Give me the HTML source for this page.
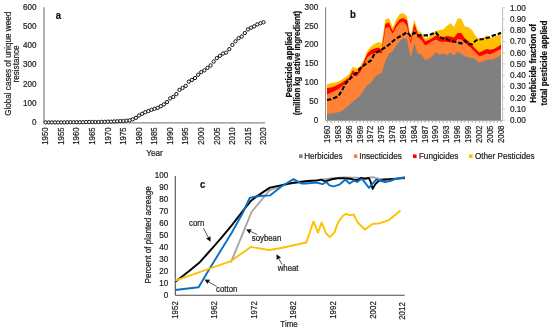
<!DOCTYPE html>
<html><head><meta charset="utf-8"><style>
html,body{margin:0;padding:0;background:#fff;}
svg{display:block;font-family:"Liberation Sans", sans-serif;filter:blur(0.4px);}
</style></head><body>
<svg width="550" height="331" viewBox="0 0 550 331">
<rect width="550" height="331" fill="#fff"/>
<line x1="44" y1="7.3" x2="44" y2="122.7" stroke="#8a8a8a" stroke-width="1.3"/>
<line x1="43.4" y1="122.9" x2="265.2" y2="122.9" stroke="#8a8a8a" stroke-width="1.3"/>
<text x="36.6" y="125" font-size="8.91" text-anchor="end" fill="#222222" stroke="#222222" stroke-width="0.22" textLength="4.5" lengthAdjust="spacingAndGlyphs">0</text>
<text x="36.6" y="105.78" font-size="8.91" text-anchor="end" fill="#222222" stroke="#222222" stroke-width="0.22" textLength="13.51" lengthAdjust="spacingAndGlyphs">100</text>
<text x="36.6" y="86.56" font-size="8.91" text-anchor="end" fill="#222222" stroke="#222222" stroke-width="0.22" textLength="13.51" lengthAdjust="spacingAndGlyphs">200</text>
<text x="36.6" y="67.34" font-size="8.91" text-anchor="end" fill="#222222" stroke="#222222" stroke-width="0.22" textLength="13.51" lengthAdjust="spacingAndGlyphs">300</text>
<text x="36.6" y="48.12" font-size="8.91" text-anchor="end" fill="#222222" stroke="#222222" stroke-width="0.22" textLength="13.51" lengthAdjust="spacingAndGlyphs">400</text>
<text x="36.6" y="28.9" font-size="8.91" text-anchor="end" fill="#222222" stroke="#222222" stroke-width="0.22" textLength="13.51" lengthAdjust="spacingAndGlyphs">500</text>
<text x="36.6" y="9.68" font-size="8.91" text-anchor="end" fill="#222222" stroke="#222222" stroke-width="0.22" textLength="13.51" lengthAdjust="spacingAndGlyphs">600</text>
<text x="48.2" y="127.4" font-size="8.58" text-anchor="end" fill="#222222" stroke="#222222" stroke-width="0.22" transform="rotate(-90 48.2 127.4)" textLength="17.35" lengthAdjust="spacingAndGlyphs">1950</text>
<text x="63.78" y="127.4" font-size="8.58" text-anchor="end" fill="#222222" stroke="#222222" stroke-width="0.22" transform="rotate(-90 63.78 127.4)" textLength="17.35" lengthAdjust="spacingAndGlyphs">1955</text>
<text x="79.37" y="127.4" font-size="8.58" text-anchor="end" fill="#222222" stroke="#222222" stroke-width="0.22" transform="rotate(-90 79.37 127.4)" textLength="17.35" lengthAdjust="spacingAndGlyphs">1960</text>
<text x="94.96" y="127.4" font-size="8.58" text-anchor="end" fill="#222222" stroke="#222222" stroke-width="0.22" transform="rotate(-90 94.96 127.4)" textLength="17.35" lengthAdjust="spacingAndGlyphs">1965</text>
<text x="110.54" y="127.4" font-size="8.58" text-anchor="end" fill="#222222" stroke="#222222" stroke-width="0.22" transform="rotate(-90 110.54 127.4)" textLength="17.35" lengthAdjust="spacingAndGlyphs">1970</text>
<text x="126.12" y="127.4" font-size="8.58" text-anchor="end" fill="#222222" stroke="#222222" stroke-width="0.22" transform="rotate(-90 126.12 127.4)" textLength="17.35" lengthAdjust="spacingAndGlyphs">1975</text>
<text x="141.71" y="127.4" font-size="8.58" text-anchor="end" fill="#222222" stroke="#222222" stroke-width="0.22" transform="rotate(-90 141.71 127.4)" textLength="17.35" lengthAdjust="spacingAndGlyphs">1980</text>
<text x="157.29" y="127.4" font-size="8.58" text-anchor="end" fill="#222222" stroke="#222222" stroke-width="0.22" transform="rotate(-90 157.29 127.4)" textLength="17.35" lengthAdjust="spacingAndGlyphs">1985</text>
<text x="172.88" y="127.4" font-size="8.58" text-anchor="end" fill="#222222" stroke="#222222" stroke-width="0.22" transform="rotate(-90 172.88 127.4)" textLength="17.35" lengthAdjust="spacingAndGlyphs">1990</text>
<text x="188.47" y="127.4" font-size="8.58" text-anchor="end" fill="#222222" stroke="#222222" stroke-width="0.22" transform="rotate(-90 188.47 127.4)" textLength="17.35" lengthAdjust="spacingAndGlyphs">1995</text>
<text x="204.05" y="127.4" font-size="8.58" text-anchor="end" fill="#222222" stroke="#222222" stroke-width="0.22" transform="rotate(-90 204.05 127.4)" textLength="17.35" lengthAdjust="spacingAndGlyphs">2000</text>
<text x="219.64" y="127.4" font-size="8.58" text-anchor="end" fill="#222222" stroke="#222222" stroke-width="0.22" transform="rotate(-90 219.64 127.4)" textLength="17.35" lengthAdjust="spacingAndGlyphs">2005</text>
<text x="235.22" y="127.4" font-size="8.58" text-anchor="end" fill="#222222" stroke="#222222" stroke-width="0.22" transform="rotate(-90 235.22 127.4)" textLength="17.35" lengthAdjust="spacingAndGlyphs">2010</text>
<text x="250.8" y="127.4" font-size="8.58" text-anchor="end" fill="#222222" stroke="#222222" stroke-width="0.22" transform="rotate(-90 250.8 127.4)" textLength="17.35" lengthAdjust="spacingAndGlyphs">2015</text>
<text x="266.39" y="127.4" font-size="8.58" text-anchor="end" fill="#222222" stroke="#222222" stroke-width="0.22" transform="rotate(-90 266.39 127.4)" textLength="17.35" lengthAdjust="spacingAndGlyphs">2020</text>
<text x="154.5" y="156" font-size="9.02" text-anchor="middle" fill="#222222" stroke="#222222" stroke-width="0.22" textLength="16.57" lengthAdjust="spacingAndGlyphs">Year</text>
<text x="10.6" y="63.8" font-size="8.91" text-anchor="middle" fill="#222222" stroke="#222222" stroke-width="0.22" transform="rotate(-90 10.6 63.8)" textLength="104.02" lengthAdjust="spacingAndGlyphs">Global cases of unique weed</text>
<text x="18.7" y="64" font-size="8.91" text-anchor="middle" fill="#222222" stroke="#222222" stroke-width="0.22" transform="rotate(-90 18.7 64)" textLength="36.92" lengthAdjust="spacingAndGlyphs">resistance</text>
<text x="55.8" y="18.9" font-size="10.45" text-anchor="start" fill="#111" stroke="#111" stroke-width="0.22" font-weight="bold" textLength="5.28" lengthAdjust="spacingAndGlyphs">a</text>
<circle cx="45.6" cy="122.4" r="1.65" fill="#fff" stroke="#111" stroke-width="1.0"/>
<circle cx="48.71" cy="122.4" r="1.65" fill="#fff" stroke="#111" stroke-width="1.0"/>
<circle cx="51.83" cy="122.4" r="1.65" fill="#fff" stroke="#111" stroke-width="1.0"/>
<circle cx="54.94" cy="122.4" r="1.65" fill="#fff" stroke="#111" stroke-width="1.0"/>
<circle cx="58.05" cy="122.4" r="1.65" fill="#fff" stroke="#111" stroke-width="1.0"/>
<circle cx="61.16" cy="122.4" r="1.65" fill="#fff" stroke="#111" stroke-width="1.0"/>
<circle cx="64.28" cy="122.4" r="1.65" fill="#fff" stroke="#111" stroke-width="1.0"/>
<circle cx="67.39" cy="122.21" r="1.65" fill="#fff" stroke="#111" stroke-width="1.0"/>
<circle cx="70.5" cy="122.21" r="1.65" fill="#fff" stroke="#111" stroke-width="1.0"/>
<circle cx="73.62" cy="122.21" r="1.65" fill="#fff" stroke="#111" stroke-width="1.0"/>
<circle cx="76.73" cy="122.21" r="1.65" fill="#fff" stroke="#111" stroke-width="1.0"/>
<circle cx="79.84" cy="122.21" r="1.65" fill="#fff" stroke="#111" stroke-width="1.0"/>
<circle cx="82.96" cy="122.21" r="1.65" fill="#fff" stroke="#111" stroke-width="1.0"/>
<circle cx="86.07" cy="122.02" r="1.65" fill="#fff" stroke="#111" stroke-width="1.0"/>
<circle cx="89.18" cy="122.02" r="1.65" fill="#fff" stroke="#111" stroke-width="1.0"/>
<circle cx="92.3" cy="122.02" r="1.65" fill="#fff" stroke="#111" stroke-width="1.0"/>
<circle cx="95.41" cy="122.02" r="1.65" fill="#fff" stroke="#111" stroke-width="1.0"/>
<circle cx="98.52" cy="122.02" r="1.65" fill="#fff" stroke="#111" stroke-width="1.0"/>
<circle cx="101.63" cy="121.83" r="1.65" fill="#fff" stroke="#111" stroke-width="1.0"/>
<circle cx="104.75" cy="121.83" r="1.65" fill="#fff" stroke="#111" stroke-width="1.0"/>
<circle cx="107.86" cy="121.63" r="1.65" fill="#fff" stroke="#111" stroke-width="1.0"/>
<circle cx="110.97" cy="121.63" r="1.65" fill="#fff" stroke="#111" stroke-width="1.0"/>
<circle cx="114.09" cy="121.44" r="1.65" fill="#fff" stroke="#111" stroke-width="1.0"/>
<circle cx="117.2" cy="121.25" r="1.65" fill="#fff" stroke="#111" stroke-width="1.0"/>
<circle cx="120.31" cy="121.06" r="1.65" fill="#fff" stroke="#111" stroke-width="1.0"/>
<circle cx="123.43" cy="121.06" r="1.65" fill="#fff" stroke="#111" stroke-width="1.0"/>
<circle cx="126.54" cy="120.68" r="1.65" fill="#fff" stroke="#111" stroke-width="1.0"/>
<circle cx="129.65" cy="120.3" r="1.65" fill="#fff" stroke="#111" stroke-width="1.0"/>
<circle cx="132.76" cy="119.34" r="1.65" fill="#fff" stroke="#111" stroke-width="1.0"/>
<circle cx="135.88" cy="117.81" r="1.65" fill="#fff" stroke="#111" stroke-width="1.0"/>
<circle cx="138.99" cy="115.51" r="1.65" fill="#fff" stroke="#111" stroke-width="1.0"/>
<circle cx="142.1" cy="113.79" r="1.65" fill="#fff" stroke="#111" stroke-width="1.0"/>
<circle cx="145.22" cy="112.26" r="1.65" fill="#fff" stroke="#111" stroke-width="1.0"/>
<circle cx="148.33" cy="111.11" r="1.65" fill="#fff" stroke="#111" stroke-width="1.0"/>
<circle cx="151.44" cy="109.77" r="1.65" fill="#fff" stroke="#111" stroke-width="1.0"/>
<circle cx="154.56" cy="108.82" r="1.65" fill="#fff" stroke="#111" stroke-width="1.0"/>
<circle cx="157.67" cy="107.86" r="1.65" fill="#fff" stroke="#111" stroke-width="1.0"/>
<circle cx="160.78" cy="106.14" r="1.65" fill="#fff" stroke="#111" stroke-width="1.0"/>
<circle cx="163.89" cy="104.41" r="1.65" fill="#fff" stroke="#111" stroke-width="1.0"/>
<circle cx="167.01" cy="102.12" r="1.65" fill="#fff" stroke="#111" stroke-width="1.0"/>
<circle cx="170.12" cy="98.48" r="1.65" fill="#fff" stroke="#111" stroke-width="1.0"/>
<circle cx="173.23" cy="96.95" r="1.65" fill="#fff" stroke="#111" stroke-width="1.0"/>
<circle cx="176.35" cy="94.08" r="1.65" fill="#fff" stroke="#111" stroke-width="1.0"/>
<circle cx="179.46" cy="89.87" r="1.65" fill="#fff" stroke="#111" stroke-width="1.0"/>
<circle cx="182.57" cy="87.96" r="1.65" fill="#fff" stroke="#111" stroke-width="1.0"/>
<circle cx="185.69" cy="85.86" r="1.65" fill="#fff" stroke="#111" stroke-width="1.0"/>
<circle cx="188.8" cy="81.65" r="1.65" fill="#fff" stroke="#111" stroke-width="1.0"/>
<circle cx="191.91" cy="79.92" r="1.65" fill="#fff" stroke="#111" stroke-width="1.0"/>
<circle cx="195.02" cy="78.01" r="1.65" fill="#fff" stroke="#111" stroke-width="1.0"/>
<circle cx="198.14" cy="74.76" r="1.65" fill="#fff" stroke="#111" stroke-width="1.0"/>
<circle cx="201.25" cy="72.08" r="1.65" fill="#fff" stroke="#111" stroke-width="1.0"/>
<circle cx="204.36" cy="70.36" r="1.65" fill="#fff" stroke="#111" stroke-width="1.0"/>
<circle cx="207.48" cy="67.87" r="1.65" fill="#fff" stroke="#111" stroke-width="1.0"/>
<circle cx="210.59" cy="65.38" r="1.65" fill="#fff" stroke="#111" stroke-width="1.0"/>
<circle cx="213.7" cy="61.56" r="1.65" fill="#fff" stroke="#111" stroke-width="1.0"/>
<circle cx="216.81" cy="58.11" r="1.65" fill="#fff" stroke="#111" stroke-width="1.0"/>
<circle cx="219.93" cy="55.82" r="1.65" fill="#fff" stroke="#111" stroke-width="1.0"/>
<circle cx="223.04" cy="53.52" r="1.65" fill="#fff" stroke="#111" stroke-width="1.0"/>
<circle cx="226.15" cy="52.56" r="1.65" fill="#fff" stroke="#111" stroke-width="1.0"/>
<circle cx="229.27" cy="49.12" r="1.65" fill="#fff" stroke="#111" stroke-width="1.0"/>
<circle cx="232.38" cy="44.91" r="1.65" fill="#fff" stroke="#111" stroke-width="1.0"/>
<circle cx="235.49" cy="41.28" r="1.65" fill="#fff" stroke="#111" stroke-width="1.0"/>
<circle cx="238.61" cy="38.21" r="1.65" fill="#fff" stroke="#111" stroke-width="1.0"/>
<circle cx="241.72" cy="36.49" r="1.65" fill="#fff" stroke="#111" stroke-width="1.0"/>
<circle cx="244.83" cy="33.05" r="1.65" fill="#fff" stroke="#111" stroke-width="1.0"/>
<circle cx="247.94" cy="29.41" r="1.65" fill="#fff" stroke="#111" stroke-width="1.0"/>
<circle cx="251.06" cy="27.69" r="1.65" fill="#fff" stroke="#111" stroke-width="1.0"/>
<circle cx="254.17" cy="26.35" r="1.65" fill="#fff" stroke="#111" stroke-width="1.0"/>
<circle cx="257.28" cy="24.44" r="1.65" fill="#fff" stroke="#111" stroke-width="1.0"/>
<circle cx="260.4" cy="23.29" r="1.65" fill="#fff" stroke="#111" stroke-width="1.0"/>
<circle cx="263.51" cy="22.33" r="1.65" fill="#fff" stroke="#111" stroke-width="1.0"/>
<polygon points="327,84.6 331.12,82.9 334.73,82.4 338.35,81.4 341.96,79.6 345.57,77 349.19,74 352.81,66.5 356.42,68.4 360.04,66.3 363.65,60 367.26,51 370.88,46.5 374.5,44 378.11,42 381.73,43 385.34,19.5 388.95,18 392.57,27.4 396.19,19.5 399.8,13.7 403.42,13.2 407.03,16.3 410.64,36.4 414.26,19.5 417.88,30.6 421.49,32.7 425.11,38.5 428.72,37 432.34,34.3 435.95,31.1 439.56,30.1 443.18,29.5 446.8,25.9 450.41,23.2 454.02,26.9 457.64,18.5 461.25,18.5 464.87,26.4 468.49,27.3 472.1,29.9 475.72,36.2 479.33,39 482.95,38 486.56,35.3 490.18,38 493.79,37.1 497.4,35.3 501,32.6 501,120 327,120" fill="#ffc000"/>
<polygon points="327,88 331.12,87.4 334.73,86.2 338.35,84.6 341.96,82.5 345.57,80 349.19,77.6 352.81,70.3 356.42,73.1 360.04,69.4 363.65,62.3 367.26,53.5 370.88,50 374.5,48.5 378.11,47.6 381.73,49.5 385.34,23.7 388.95,22.7 392.57,31.1 396.19,23.7 399.8,19 403.42,18 407.03,20.6 410.64,40.7 414.26,23.7 417.88,33.8 421.49,35.4 425.11,41.2 428.72,40.1 432.34,38.1 435.95,35.4 439.56,36.5 443.18,37 446.8,35.9 450.41,36.4 454.02,37.5 457.64,33 461.25,33 464.87,38.5 468.49,41 472.1,45.3 475.72,48.9 479.33,52.5 482.95,50.7 486.56,48.9 490.18,49.8 493.79,48.9 497.4,47.1 501,44.4 501,120 327,120" fill="#ff0000"/>
<polygon points="327,94.5 331.12,92.6 334.73,91 338.35,89 341.96,86.3 345.57,83 349.19,80 352.81,74 356.42,76.5 360.04,72.5 363.65,65.6 367.26,57.5 370.88,54.5 374.5,53 378.11,52.6 381.73,53.5 385.34,28 388.95,27 392.57,33.8 396.19,27 399.8,22.7 403.42,21.6 407.03,25.9 410.64,43.8 414.26,28.5 417.88,37.5 421.49,40 425.11,45.4 428.72,43.6 432.34,40.9 435.95,39.5 439.56,41.5 443.18,41.8 446.8,41.8 450.41,42.5 454.02,42.7 457.64,39 461.25,39.5 464.87,42.7 468.49,45.5 472.1,48.9 475.72,52.5 479.33,56.2 482.95,55.2 486.56,53.4 490.18,54.3 493.79,52.5 497.4,50.7 501,48.9 501,120 327,120" fill="#ff8133"/>
<polygon points="327,114 331.12,113.5 334.73,113.1 338.35,112.2 341.96,111 345.57,108 349.19,105 352.81,101.8 356.42,98.8 360.04,96 363.65,90 367.26,85 370.88,83 374.5,77.4 378.11,74.5 381.73,73 385.34,61 388.95,54 392.57,51.5 396.19,45.5 399.8,41 403.42,38.1 407.03,39 410.64,58 414.26,43.5 417.88,53.5 421.49,54.5 425.11,60 428.72,59 432.34,56.2 435.95,52.3 439.56,54.4 443.18,53.5 446.8,55.3 450.41,52.6 454.02,55.3 457.64,51.7 461.25,53.5 464.87,56.2 468.49,57.5 472.1,58 475.72,59.8 479.33,62.5 482.95,61.6 486.56,59.8 490.18,59.8 493.79,58.9 497.4,57.1 501,55.2 501,120 327,120" fill="#808080"/>
<polyline points="327,100 331.12,99.2 334.73,97.8 338.35,96.2 341.96,90.5 345.57,83.5 349.19,79.7 352.81,76 356.42,73.1 360.04,68.4 363.65,65.6 367.26,62.8 370.88,60.5 374.5,54 378.11,51.5 381.73,49.5 385.34,47.3 388.95,44.8 392.57,41.5 396.19,38.5 399.8,36.5 403.42,34.5 407.03,32.2 410.64,35.9 414.26,32.7 417.88,35.4 421.49,35.4 425.11,35.4 428.72,35.4 432.34,33.8 435.95,32.5 439.56,37 443.18,38.6 446.8,39.1 450.41,40.7 454.02,41.5 457.64,42.2 461.25,43.5 464.87,40.6 468.49,44.3 472.1,44.3 475.72,40.6 479.33,39.5 482.95,39 486.56,38 490.18,37.1 493.79,35.3 497.4,34.4 501,32.6" fill="none" stroke="#000" stroke-width="2.1" stroke-dasharray="4.4 2"/>
<line x1="325.6" y1="7.2" x2="325.6" y2="120.6" stroke="#8a8a8a" stroke-width="1.1"/>
<line x1="325.8" y1="120.6" x2="502.6" y2="120.6" stroke="#9a9a9a" stroke-width="1"/>
<line x1="502.6" y1="7.6" x2="502.6" y2="120.6" stroke="#bdbdbd" stroke-width="1"/>
<line x1="327.5" y1="120.6" x2="327.5" y2="122.8" stroke="#9a9a9a" stroke-width="0.8"/>
<line x1="331.12" y1="120.6" x2="331.12" y2="122.8" stroke="#9a9a9a" stroke-width="0.8"/>
<line x1="334.73" y1="120.6" x2="334.73" y2="122.8" stroke="#9a9a9a" stroke-width="0.8"/>
<line x1="338.35" y1="120.6" x2="338.35" y2="122.8" stroke="#9a9a9a" stroke-width="0.8"/>
<line x1="341.96" y1="120.6" x2="341.96" y2="122.8" stroke="#9a9a9a" stroke-width="0.8"/>
<line x1="345.57" y1="120.6" x2="345.57" y2="122.8" stroke="#9a9a9a" stroke-width="0.8"/>
<line x1="349.19" y1="120.6" x2="349.19" y2="122.8" stroke="#9a9a9a" stroke-width="0.8"/>
<line x1="352.81" y1="120.6" x2="352.81" y2="122.8" stroke="#9a9a9a" stroke-width="0.8"/>
<line x1="356.42" y1="120.6" x2="356.42" y2="122.8" stroke="#9a9a9a" stroke-width="0.8"/>
<line x1="360.04" y1="120.6" x2="360.04" y2="122.8" stroke="#9a9a9a" stroke-width="0.8"/>
<line x1="363.65" y1="120.6" x2="363.65" y2="122.8" stroke="#9a9a9a" stroke-width="0.8"/>
<line x1="367.26" y1="120.6" x2="367.26" y2="122.8" stroke="#9a9a9a" stroke-width="0.8"/>
<line x1="370.88" y1="120.6" x2="370.88" y2="122.8" stroke="#9a9a9a" stroke-width="0.8"/>
<line x1="374.5" y1="120.6" x2="374.5" y2="122.8" stroke="#9a9a9a" stroke-width="0.8"/>
<line x1="378.11" y1="120.6" x2="378.11" y2="122.8" stroke="#9a9a9a" stroke-width="0.8"/>
<line x1="381.73" y1="120.6" x2="381.73" y2="122.8" stroke="#9a9a9a" stroke-width="0.8"/>
<line x1="385.34" y1="120.6" x2="385.34" y2="122.8" stroke="#9a9a9a" stroke-width="0.8"/>
<line x1="388.95" y1="120.6" x2="388.95" y2="122.8" stroke="#9a9a9a" stroke-width="0.8"/>
<line x1="392.57" y1="120.6" x2="392.57" y2="122.8" stroke="#9a9a9a" stroke-width="0.8"/>
<line x1="396.19" y1="120.6" x2="396.19" y2="122.8" stroke="#9a9a9a" stroke-width="0.8"/>
<line x1="399.8" y1="120.6" x2="399.8" y2="122.8" stroke="#9a9a9a" stroke-width="0.8"/>
<line x1="403.42" y1="120.6" x2="403.42" y2="122.8" stroke="#9a9a9a" stroke-width="0.8"/>
<line x1="407.03" y1="120.6" x2="407.03" y2="122.8" stroke="#9a9a9a" stroke-width="0.8"/>
<line x1="410.64" y1="120.6" x2="410.64" y2="122.8" stroke="#9a9a9a" stroke-width="0.8"/>
<line x1="414.26" y1="120.6" x2="414.26" y2="122.8" stroke="#9a9a9a" stroke-width="0.8"/>
<line x1="417.88" y1="120.6" x2="417.88" y2="122.8" stroke="#9a9a9a" stroke-width="0.8"/>
<line x1="421.49" y1="120.6" x2="421.49" y2="122.8" stroke="#9a9a9a" stroke-width="0.8"/>
<line x1="425.11" y1="120.6" x2="425.11" y2="122.8" stroke="#9a9a9a" stroke-width="0.8"/>
<line x1="428.72" y1="120.6" x2="428.72" y2="122.8" stroke="#9a9a9a" stroke-width="0.8"/>
<line x1="432.34" y1="120.6" x2="432.34" y2="122.8" stroke="#9a9a9a" stroke-width="0.8"/>
<line x1="435.95" y1="120.6" x2="435.95" y2="122.8" stroke="#9a9a9a" stroke-width="0.8"/>
<line x1="439.56" y1="120.6" x2="439.56" y2="122.8" stroke="#9a9a9a" stroke-width="0.8"/>
<line x1="443.18" y1="120.6" x2="443.18" y2="122.8" stroke="#9a9a9a" stroke-width="0.8"/>
<line x1="446.8" y1="120.6" x2="446.8" y2="122.8" stroke="#9a9a9a" stroke-width="0.8"/>
<line x1="450.41" y1="120.6" x2="450.41" y2="122.8" stroke="#9a9a9a" stroke-width="0.8"/>
<line x1="454.02" y1="120.6" x2="454.02" y2="122.8" stroke="#9a9a9a" stroke-width="0.8"/>
<line x1="457.64" y1="120.6" x2="457.64" y2="122.8" stroke="#9a9a9a" stroke-width="0.8"/>
<line x1="461.25" y1="120.6" x2="461.25" y2="122.8" stroke="#9a9a9a" stroke-width="0.8"/>
<line x1="464.87" y1="120.6" x2="464.87" y2="122.8" stroke="#9a9a9a" stroke-width="0.8"/>
<line x1="468.49" y1="120.6" x2="468.49" y2="122.8" stroke="#9a9a9a" stroke-width="0.8"/>
<line x1="472.1" y1="120.6" x2="472.1" y2="122.8" stroke="#9a9a9a" stroke-width="0.8"/>
<line x1="475.72" y1="120.6" x2="475.72" y2="122.8" stroke="#9a9a9a" stroke-width="0.8"/>
<line x1="479.33" y1="120.6" x2="479.33" y2="122.8" stroke="#9a9a9a" stroke-width="0.8"/>
<line x1="482.95" y1="120.6" x2="482.95" y2="122.8" stroke="#9a9a9a" stroke-width="0.8"/>
<line x1="486.56" y1="120.6" x2="486.56" y2="122.8" stroke="#9a9a9a" stroke-width="0.8"/>
<line x1="490.18" y1="120.6" x2="490.18" y2="122.8" stroke="#9a9a9a" stroke-width="0.8"/>
<line x1="493.79" y1="120.6" x2="493.79" y2="122.8" stroke="#9a9a9a" stroke-width="0.8"/>
<line x1="497.4" y1="120.6" x2="497.4" y2="122.8" stroke="#9a9a9a" stroke-width="0.8"/>
<line x1="501.02" y1="120.6" x2="501.02" y2="122.8" stroke="#9a9a9a" stroke-width="0.8"/>
<line x1="502.6" y1="120.2" x2="505" y2="120.2" stroke="#bdbdbd" stroke-width="0.8"/>
<text x="509.9" y="123.1" font-size="9.02" text-anchor="start" fill="#222222" stroke="#222222" stroke-width="0.22" textLength="15.96" lengthAdjust="spacingAndGlyphs">0.00</text>
<line x1="502.6" y1="108.96" x2="505" y2="108.96" stroke="#bdbdbd" stroke-width="0.8"/>
<text x="509.9" y="111.86" font-size="9.02" text-anchor="start" fill="#222222" stroke="#222222" stroke-width="0.22" textLength="15.96" lengthAdjust="spacingAndGlyphs">0.10</text>
<line x1="502.6" y1="97.72" x2="505" y2="97.72" stroke="#bdbdbd" stroke-width="0.8"/>
<text x="509.9" y="100.62" font-size="9.02" text-anchor="start" fill="#222222" stroke="#222222" stroke-width="0.22" textLength="15.96" lengthAdjust="spacingAndGlyphs">0.20</text>
<line x1="502.6" y1="86.48" x2="505" y2="86.48" stroke="#bdbdbd" stroke-width="0.8"/>
<text x="509.9" y="89.38" font-size="9.02" text-anchor="start" fill="#222222" stroke="#222222" stroke-width="0.22" textLength="15.96" lengthAdjust="spacingAndGlyphs">0.30</text>
<line x1="502.6" y1="75.24" x2="505" y2="75.24" stroke="#bdbdbd" stroke-width="0.8"/>
<text x="509.9" y="78.14" font-size="9.02" text-anchor="start" fill="#222222" stroke="#222222" stroke-width="0.22" textLength="15.96" lengthAdjust="spacingAndGlyphs">0.40</text>
<line x1="502.6" y1="64" x2="505" y2="64" stroke="#bdbdbd" stroke-width="0.8"/>
<text x="509.9" y="66.9" font-size="9.02" text-anchor="start" fill="#222222" stroke="#222222" stroke-width="0.22" textLength="15.96" lengthAdjust="spacingAndGlyphs">0.50</text>
<line x1="502.6" y1="52.76" x2="505" y2="52.76" stroke="#bdbdbd" stroke-width="0.8"/>
<text x="509.9" y="55.66" font-size="9.02" text-anchor="start" fill="#222222" stroke="#222222" stroke-width="0.22" textLength="15.96" lengthAdjust="spacingAndGlyphs">0.60</text>
<line x1="502.6" y1="41.52" x2="505" y2="41.52" stroke="#bdbdbd" stroke-width="0.8"/>
<text x="509.9" y="44.42" font-size="9.02" text-anchor="start" fill="#222222" stroke="#222222" stroke-width="0.22" textLength="15.96" lengthAdjust="spacingAndGlyphs">0.70</text>
<line x1="502.6" y1="30.28" x2="505" y2="30.28" stroke="#bdbdbd" stroke-width="0.8"/>
<text x="509.9" y="33.18" font-size="9.02" text-anchor="start" fill="#222222" stroke="#222222" stroke-width="0.22" textLength="15.96" lengthAdjust="spacingAndGlyphs">0.80</text>
<line x1="502.6" y1="19.04" x2="505" y2="19.04" stroke="#bdbdbd" stroke-width="0.8"/>
<text x="509.9" y="21.94" font-size="9.02" text-anchor="start" fill="#222222" stroke="#222222" stroke-width="0.22" textLength="15.96" lengthAdjust="spacingAndGlyphs">0.90</text>
<line x1="502.6" y1="7.8" x2="505" y2="7.8" stroke="#bdbdbd" stroke-width="0.8"/>
<text x="509.9" y="10.7" font-size="9.02" text-anchor="start" fill="#222222" stroke="#222222" stroke-width="0.22" textLength="15.96" lengthAdjust="spacingAndGlyphs">1.00</text>
<text x="318.3" y="122.9" font-size="9.02" text-anchor="end" fill="#222222" stroke="#222222" stroke-width="0.22" textLength="4.56" lengthAdjust="spacingAndGlyphs">0</text>
<text x="318.3" y="104.03" font-size="9.02" text-anchor="end" fill="#222222" stroke="#222222" stroke-width="0.22" textLength="9.12" lengthAdjust="spacingAndGlyphs">50</text>
<text x="318.3" y="85.17" font-size="9.02" text-anchor="end" fill="#222222" stroke="#222222" stroke-width="0.22" textLength="13.68" lengthAdjust="spacingAndGlyphs">100</text>
<text x="318.3" y="66.3" font-size="9.02" text-anchor="end" fill="#222222" stroke="#222222" stroke-width="0.22" textLength="13.68" lengthAdjust="spacingAndGlyphs">150</text>
<text x="318.3" y="47.44" font-size="9.02" text-anchor="end" fill="#222222" stroke="#222222" stroke-width="0.22" textLength="13.68" lengthAdjust="spacingAndGlyphs">200</text>
<text x="318.3" y="28.57" font-size="9.02" text-anchor="end" fill="#222222" stroke="#222222" stroke-width="0.22" textLength="13.68" lengthAdjust="spacingAndGlyphs">250</text>
<text x="318.3" y="9.71" font-size="9.02" text-anchor="end" fill="#222222" stroke="#222222" stroke-width="0.22" textLength="13.68" lengthAdjust="spacingAndGlyphs">300</text>
<text x="330" y="125.5" font-size="8.69" text-anchor="end" fill="#222222" stroke="#222222" stroke-width="0.22" transform="rotate(-90 330 125.5)" textLength="17.57" lengthAdjust="spacingAndGlyphs">1960</text>
<text x="340.85" y="125.5" font-size="8.69" text-anchor="end" fill="#222222" stroke="#222222" stroke-width="0.22" transform="rotate(-90 340.85 125.5)" textLength="17.57" lengthAdjust="spacingAndGlyphs">1963</text>
<text x="351.69" y="125.5" font-size="8.69" text-anchor="end" fill="#222222" stroke="#222222" stroke-width="0.22" transform="rotate(-90 351.69 125.5)" textLength="17.57" lengthAdjust="spacingAndGlyphs">1966</text>
<text x="362.54" y="125.5" font-size="8.69" text-anchor="end" fill="#222222" stroke="#222222" stroke-width="0.22" transform="rotate(-90 362.54 125.5)" textLength="17.57" lengthAdjust="spacingAndGlyphs">1969</text>
<text x="373.38" y="125.5" font-size="8.69" text-anchor="end" fill="#222222" stroke="#222222" stroke-width="0.22" transform="rotate(-90 373.38 125.5)" textLength="17.57" lengthAdjust="spacingAndGlyphs">1972</text>
<text x="384.23" y="125.5" font-size="8.69" text-anchor="end" fill="#222222" stroke="#222222" stroke-width="0.22" transform="rotate(-90 384.23 125.5)" textLength="17.57" lengthAdjust="spacingAndGlyphs">1975</text>
<text x="395.07" y="125.5" font-size="8.69" text-anchor="end" fill="#222222" stroke="#222222" stroke-width="0.22" transform="rotate(-90 395.07 125.5)" textLength="17.57" lengthAdjust="spacingAndGlyphs">1978</text>
<text x="405.92" y="125.5" font-size="8.69" text-anchor="end" fill="#222222" stroke="#222222" stroke-width="0.22" transform="rotate(-90 405.92 125.5)" textLength="17.57" lengthAdjust="spacingAndGlyphs">1981</text>
<text x="416.76" y="125.5" font-size="8.69" text-anchor="end" fill="#222222" stroke="#222222" stroke-width="0.22" transform="rotate(-90 416.76 125.5)" textLength="17.57" lengthAdjust="spacingAndGlyphs">1984</text>
<text x="427.61" y="125.5" font-size="8.69" text-anchor="end" fill="#222222" stroke="#222222" stroke-width="0.22" transform="rotate(-90 427.61 125.5)" textLength="17.57" lengthAdjust="spacingAndGlyphs">1987</text>
<text x="438.45" y="125.5" font-size="8.69" text-anchor="end" fill="#222222" stroke="#222222" stroke-width="0.22" transform="rotate(-90 438.45 125.5)" textLength="17.57" lengthAdjust="spacingAndGlyphs">1990</text>
<text x="449.3" y="125.5" font-size="8.69" text-anchor="end" fill="#222222" stroke="#222222" stroke-width="0.22" transform="rotate(-90 449.3 125.5)" textLength="17.57" lengthAdjust="spacingAndGlyphs">1993</text>
<text x="460.14" y="125.5" font-size="8.69" text-anchor="end" fill="#222222" stroke="#222222" stroke-width="0.22" transform="rotate(-90 460.14 125.5)" textLength="17.57" lengthAdjust="spacingAndGlyphs">1996</text>
<text x="470.99" y="125.5" font-size="8.69" text-anchor="end" fill="#222222" stroke="#222222" stroke-width="0.22" transform="rotate(-90 470.99 125.5)" textLength="17.57" lengthAdjust="spacingAndGlyphs">1999</text>
<text x="481.83" y="125.5" font-size="8.69" text-anchor="end" fill="#222222" stroke="#222222" stroke-width="0.22" transform="rotate(-90 481.83 125.5)" textLength="17.57" lengthAdjust="spacingAndGlyphs">2002</text>
<text x="492.68" y="125.5" font-size="8.69" text-anchor="end" fill="#222222" stroke="#222222" stroke-width="0.22" transform="rotate(-90 492.68 125.5)" textLength="17.57" lengthAdjust="spacingAndGlyphs">2005</text>
<text x="503.52" y="125.5" font-size="8.69" text-anchor="end" fill="#222222" stroke="#222222" stroke-width="0.22" transform="rotate(-90 503.52 125.5)" textLength="17.57" lengthAdjust="spacingAndGlyphs">2008</text>
<text x="350" y="17.8" font-size="10.56" text-anchor="start" fill="#111" stroke="#111" stroke-width="0.22" font-weight="bold" textLength="5.86" lengthAdjust="spacingAndGlyphs">b</text>
<text x="291.6" y="64.6" font-size="8.86" text-anchor="middle" fill="#111" stroke="#111" stroke-width="0.22" font-weight="bold" transform="rotate(-90 291.6 64.6)" textLength="65.76" lengthAdjust="spacingAndGlyphs">Pesticide applied</text>
<text x="300.4" y="63" font-size="8.47" text-anchor="middle" fill="#111" stroke="#111" stroke-width="0.22" font-weight="bold" transform="rotate(-90 300.4 63)" textLength="104.39" lengthAdjust="spacingAndGlyphs">(million kg active ingredient)</text>
<text x="536.3" y="63.3" font-size="8.91" text-anchor="middle" fill="#111" stroke="#111" stroke-width="0.22" font-weight="bold" transform="rotate(-90 536.3 63.3)" textLength="78.76" lengthAdjust="spacingAndGlyphs">Herbicide fraction of</text>
<text x="546.7" y="63" font-size="8.91" text-anchor="middle" fill="#111" stroke="#111" stroke-width="0.22" font-weight="bold" transform="rotate(-90 546.7 63)" textLength="85.07" lengthAdjust="spacingAndGlyphs">total pesticide applied</text>
<rect x="299" y="154.4" width="3.6" height="3.6" fill="#808080"/>
<text x="304.2" y="158.9" font-size="8.97" text-anchor="start" fill="#222222" stroke="#222222" stroke-width="0.22" textLength="38.5" lengthAdjust="spacingAndGlyphs">Herbicides</text>
<rect x="353.8" y="154.4" width="3.6" height="3.6" fill="#ff8133"/>
<text x="359.2" y="158.9" font-size="8.97" text-anchor="start" fill="#222222" stroke="#222222" stroke-width="0.22" textLength="42.58" lengthAdjust="spacingAndGlyphs">Insecticides</text>
<rect x="413" y="154.4" width="3.6" height="3.6" fill="#ff0000"/>
<text x="418.9" y="158.9" font-size="8.97" text-anchor="start" fill="#222222" stroke="#222222" stroke-width="0.22" textLength="39.41" lengthAdjust="spacingAndGlyphs">Fungicides</text>
<rect x="469" y="154.4" width="3.6" height="3.6" fill="#ffc000"/>
<text x="474.9" y="158.9" font-size="8.97" text-anchor="start" fill="#222222" stroke="#222222" stroke-width="0.22" textLength="59.79" lengthAdjust="spacingAndGlyphs">Other Pesticides</text>
<line x1="175.3" y1="176" x2="175.3" y2="295.2" stroke="#505050" stroke-width="1.1"/>
<line x1="175.3" y1="295.2" x2="404.6" y2="295.2" stroke="#4a4a4a" stroke-width="1.1"/>
<text x="168.2" y="297.7" font-size="8.91" text-anchor="end" fill="#222222" stroke="#222222" stroke-width="0.22" textLength="4.5" lengthAdjust="spacingAndGlyphs">0</text>
<text x="168.2" y="285.75" font-size="8.91" text-anchor="end" fill="#222222" stroke="#222222" stroke-width="0.22" textLength="9.01" lengthAdjust="spacingAndGlyphs">10</text>
<text x="168.2" y="273.8" font-size="8.91" text-anchor="end" fill="#222222" stroke="#222222" stroke-width="0.22" textLength="9.01" lengthAdjust="spacingAndGlyphs">20</text>
<text x="168.2" y="261.85" font-size="8.91" text-anchor="end" fill="#222222" stroke="#222222" stroke-width="0.22" textLength="9.01" lengthAdjust="spacingAndGlyphs">30</text>
<text x="168.2" y="249.9" font-size="8.91" text-anchor="end" fill="#222222" stroke="#222222" stroke-width="0.22" textLength="9.01" lengthAdjust="spacingAndGlyphs">40</text>
<text x="168.2" y="237.95" font-size="8.91" text-anchor="end" fill="#222222" stroke="#222222" stroke-width="0.22" textLength="9.01" lengthAdjust="spacingAndGlyphs">50</text>
<text x="168.2" y="226" font-size="8.91" text-anchor="end" fill="#222222" stroke="#222222" stroke-width="0.22" textLength="9.01" lengthAdjust="spacingAndGlyphs">60</text>
<text x="168.2" y="214.05" font-size="8.91" text-anchor="end" fill="#222222" stroke="#222222" stroke-width="0.22" textLength="9.01" lengthAdjust="spacingAndGlyphs">70</text>
<text x="168.2" y="202.1" font-size="8.91" text-anchor="end" fill="#222222" stroke="#222222" stroke-width="0.22" textLength="9.01" lengthAdjust="spacingAndGlyphs">80</text>
<text x="168.2" y="190.15" font-size="8.91" text-anchor="end" fill="#222222" stroke="#222222" stroke-width="0.22" textLength="9.01" lengthAdjust="spacingAndGlyphs">90</text>
<text x="168.2" y="178.2" font-size="8.91" text-anchor="end" fill="#222222" stroke="#222222" stroke-width="0.22" textLength="13.51" lengthAdjust="spacingAndGlyphs">100</text>
<text x="178.1" y="301.2" font-size="8.69" text-anchor="end" fill="#222222" stroke="#222222" stroke-width="0.22" transform="rotate(-90 178.1 301.2)" textLength="17.57" lengthAdjust="spacingAndGlyphs">1952</text>
<text x="217.1" y="301.2" font-size="8.69" text-anchor="end" fill="#222222" stroke="#222222" stroke-width="0.22" transform="rotate(-90 217.1 301.2)" textLength="17.57" lengthAdjust="spacingAndGlyphs">1962</text>
<text x="257" y="301.2" font-size="8.69" text-anchor="end" fill="#222222" stroke="#222222" stroke-width="0.22" transform="rotate(-90 257 301.2)" textLength="17.57" lengthAdjust="spacingAndGlyphs">1972</text>
<text x="296.3" y="301.2" font-size="8.69" text-anchor="end" fill="#222222" stroke="#222222" stroke-width="0.22" transform="rotate(-90 296.3 301.2)" textLength="17.57" lengthAdjust="spacingAndGlyphs">1982</text>
<text x="336.2" y="301.2" font-size="8.69" text-anchor="end" fill="#222222" stroke="#222222" stroke-width="0.22" transform="rotate(-90 336.2 301.2)" textLength="17.57" lengthAdjust="spacingAndGlyphs">1992</text>
<text x="375.7" y="301.2" font-size="8.69" text-anchor="end" fill="#222222" stroke="#222222" stroke-width="0.22" transform="rotate(-90 375.7 301.2)" textLength="17.57" lengthAdjust="spacingAndGlyphs">2002</text>
<text x="404.9" y="302.2" font-size="8.69" text-anchor="end" fill="#222222" stroke="#222222" stroke-width="0.22" transform="rotate(-90 404.9 302.2)" textLength="17.57" lengthAdjust="spacingAndGlyphs">2012</text>
<text x="289" y="326.6" font-size="8.69" text-anchor="middle" fill="#222222" stroke="#222222" stroke-width="0.22" textLength="17.26" lengthAdjust="spacingAndGlyphs">Time</text>
<text x="151.4" y="234.85" font-size="8.91" text-anchor="middle" fill="#222222" stroke="#222222" stroke-width="0.22" transform="rotate(-90 151.4 234.85)" textLength="97.27" lengthAdjust="spacingAndGlyphs">Percent of planted acreage</text>
<text x="200.1" y="188" font-size="10.45" text-anchor="start" fill="#111" stroke="#111" stroke-width="0.22" font-weight="bold" textLength="5.28" lengthAdjust="spacingAndGlyphs">c</text>
<polyline points="230.9,262.4 251.5,212 269.3,190.7 272.5,189 276.3,187.9 286.3,184.1 297.1,182.7 310,181.2 332.7,178.2 343.6,177.4 355,177.8 365,178.3 373,177.2 378,178.6 390,179.2 405,178.4" fill="none" stroke="#a5a5a5" stroke-width="1.9" stroke-linejoin="round"/>
<polyline points="175.3,281.8 182.5,276.2 189.5,270.8 199.2,262.8 207.1,254 214.1,246.1 221.1,238.1 231.7,225.4 242.3,211.7 250.7,201.1 256,196.9 260.9,193.6 269.9,187.6 280.8,185.4 291.7,183 300.8,181.8 310.9,180.7 317.5,180.4 321.3,179.6 325.1,181.5 331.6,179.3 338.2,178.2 343.6,178.2 350.2,178.7 353.5,179.6 357.3,180.2 360.9,178 365.1,178.7 368.8,178 370.6,181.7 372.7,188.9 375.4,184.1 378.4,181.1 384.1,179.7 390.1,179.1 405,177.9" fill="none" stroke="#000" stroke-width="1.9" stroke-linejoin="round"/>
<polyline points="175.3,290 198.6,287.3 210,268 220,251.8 231.7,232.8 242.3,213.8 249.7,198 253.9,196.9 260,196 270,195.4 281.7,186.3 293.5,179.1 301.7,183.6 305.5,183.6 316.4,182.5 322.4,184.2 326.2,182 329.5,185.3 333.8,186.4 339.3,184.7 345.4,179.5 349.6,183.6 354,180.4 357,182 361,179.2 362.5,179.3 369,187.8 376.3,179.5 385,182 390,181 395,179 405,177.2" fill="none" stroke="#0a6fc2" stroke-width="1.9" stroke-linejoin="round"/>
<polyline points="175.3,280.7 230.9,261.1 250.8,246.9 268.9,250 280,248.2 306.3,242.5 313.5,221.4 318,232.6 321.6,222.6 326.2,233.5 329.8,237.1 334.3,232.6 338,222.6 342.5,216.3 346,213.9 349.8,215.4 353.6,214.4 357.4,222.2 365,229.5 372.5,224 379.3,223.4 388.4,220.4 400.5,210.6" fill="none" stroke="#ffc000" stroke-width="1.9" stroke-linejoin="round"/>
<text x="189.1" y="225.5" font-size="8.58" text-anchor="start" fill="#222222" stroke="#222222" stroke-width="0.22" textLength="15.17" lengthAdjust="spacingAndGlyphs">corn</text>
<line x1="203.3" y1="227.9" x2="208.28" y2="237.37" stroke="#333" stroke-width="0.8"/>
<polygon points="210.6,241.8 206.06,238.54 210.49,236.21" fill="#111"/>
<text x="251.8" y="240.8" font-size="8.58" text-anchor="start" fill="#222222" stroke="#222222" stroke-width="0.22" textLength="29.49" lengthAdjust="spacingAndGlyphs">soybean</text>
<line x1="257.4" y1="234.6" x2="250.55" y2="231.48" stroke="#333" stroke-width="0.8"/>
<polygon points="246,229.4 251.59,229.2 249.51,233.75" fill="#111"/>
<text x="277.7" y="270.5" font-size="8.58" text-anchor="start" fill="#222222" stroke="#222222" stroke-width="0.22" textLength="20.81" lengthAdjust="spacingAndGlyphs">wheat</text>
<line x1="281.9" y1="264.5" x2="278.82" y2="258.63" stroke="#333" stroke-width="0.8"/>
<polygon points="276.5,254.2 281.04,257.47 276.61,259.79" fill="#111"/>
<text x="216.1" y="291.9" font-size="8.58" text-anchor="start" fill="#222222" stroke="#222222" stroke-width="0.22" textLength="21.25" lengthAdjust="spacingAndGlyphs">cotton</text>
<line x1="216.8" y1="286.6" x2="208.82" y2="281.93" stroke="#333" stroke-width="0.8"/>
<polygon points="204.5,279.4 210.08,279.77 207.55,284.08" fill="#111"/>
</svg>
</body></html>
